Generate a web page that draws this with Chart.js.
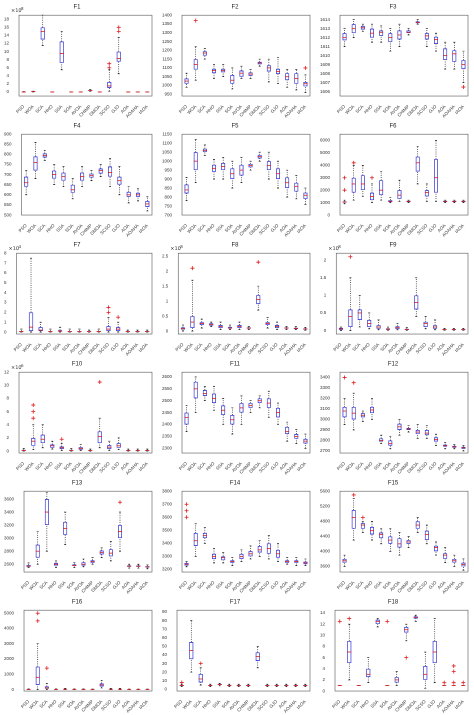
<!DOCTYPE html>
<html><head><meta charset="utf-8">
<script src="https://cdn.jsdelivr.net/npm/chart.js@4/dist/chart.umd.min.js"></script>
<style>
body{margin:0;background:#fff;font-family:"DejaVu Sans",sans-serif}
#g{display:grid;grid-template-columns:repeat(3,158px);grid-template-rows:repeat(6,119px);width:474px;height:715px}
.c{position:relative;width:158px;height:119px}
</style></head><body><div id="g"></div>
<script>
const categories=["PSO","WOA","SCA","HHO","SSA","SOA","AVOA","CHIMP","DMOA","SCSO","GJO","AOA","AOAHA","IAOA"];
const titles=["F1","F2","F3","F4","F5","F6","F7","F8","F9","F10","F11","F12","F13","F14","F15","F16","F17","F18"];
const exponents=["8","","","","","","4","8","8","6","","","","","","","",""];
const yRanges=[[-1,19],[940,1400],[1605.5,1614.5],[500,900],[700,1150],[0,6500],[-0.2,8],[-0.1,2.6],[-0.1,2.2],[-0.3,12],[2280,2620],[2680,3450],[2480,3720],[3180,3800],[3450,5600],[-100,5200],[-2,92],[0,14.5]];
const yTickSteps=[2,50,1,50,50,1000,1,0.5,0.5,2,50,100,200,100,200,500,10,2];
const F1_box=[[0,0,0,0,0.1],[0,0.05,0.1,0.15,0.2],[11.5,13,15,16,19],[0,0,0,0,0.05],[5.5,7.2,9.5,12.5,15],[0,0,0,0,0.05],[0,0,0,0,0.05],[0.2,0.3,0.4,0.5,0.6],[0,0,0,0,0.05],[0.2,1,1.5,2.5,5.5],[4.5,7.5,8.3,10,13.5],[0,0,0,0,0.05],[0,0,0,0,0.05],[0,0,0,0,0.05]];
const F1_out=[[9,6],[9,7],[10,15],[10,16]];
const F2_box=[[990,1010,1025,1040,1070],[1030,1090,1120,1150,1220],[1150,1170,1185,1195,1210],[1040,1070,1085,1095,1120],[1050,1075,1085,1095,1120],[980,1010,1030,1060,1100],[1040,1050,1070,1085,1110],[1040,1055,1065,1075,1090],[1110,1120,1128,1135,1150],[1020,1080,1100,1115,1150],[1010,1065,1080,1095,1160],[990,1030,1050,1070,1090],[975,1010,1040,1070,1090],[960,995,1010,1020,1060]];
const F2_out=[[1,1370],[13,1100]];
const F3_box=[[1611,1611.7,1612,1612.5,1613],[1612,1612.5,1613,1613.5,1614],[1612.7,1612.9,1613.1,1613.3,1613.5],[1611.5,1612,1612.5,1613,1613.5],[1611.5,1612.2,1612.6,1612.8,1613.3],[1610.5,1611.5,1612,1612.5,1613],[1611,1611.8,1612.3,1612.8,1613.5],[1612.3,1612.5,1612.6,1612.8,1613],[1613.5,1613.6,1613.7,1613.8,1614],[1611,1611.8,1612.2,1612.5,1613],[1610.5,1611.3,1611.8,1612.1,1612.5],[1608.5,1609.5,1610,1610.8,1611.5],[1608.5,1609.3,1610.2,1610.6,1611.5],[1607,1608.5,1609,1609.5,1610.5]];
const F3_out=[[13,1606.5]];
const F4_box=[[600,640,660,690,720],[680,720,760,790,860],[770,785,795,805,820],[650,680,700,720,750],[640,670,690,710,740],[580,610,625,650,680],[640,670,690,710,740],[670,685,695,705,720],[690,705,720,730,750],[640,690,710,740,780],[600,650,670,690,740],[560,590,600,615,640],[570,590,600,610,630],[520,540,555,570,590]];
const F4_out=[];
const F5_box=[[780,820,840,870,910],[880,950,1000,1050,1120],[1030,1050,1060,1070,1090],[900,940,960,980,1010],[900,950,970,990,1020],[850,900,930,960,1000],[880,920,950,980,1020],[950,965,975,985,1000],[1000,1015,1025,1035,1050],[900,950,975,1000,1050],[850,900,930,960,1000],[800,850,880,910,950],[790,830,860,880,920],[760,790,810,825,850]];
const F5_out=[];
const F6_box=[[900,1000,1050,1100,1200],[1200,1800,2500,3000,4000],[1500,2000,2500,3200,4000],[1000,1200,1500,1800,2500],[1200,1600,2000,2800,3500],[1000,1050,1100,1200,1400],[1100,1300,1600,2000,2800],[1000,1050,1100,1150,1200],[2500,3500,4200,4700,5500],[1100,1500,1800,2000,2500],[1100,1800,3000,4500,6000],[1000,1050,1100,1150,1200],[1000,1050,1100,1150,1200],[1000,1050,1100,1150,1200]];
const F6_out=[[0,2000],[0,3000],[1,4200],[3,3000]];
const F7_box=[[0,0.02,0.05,0.1,0.3],[0,0.1,0.5,2,7.5],[0,0.1,0.2,0.5,1],[0,0.02,0.05,0.1,0.3],[0,0.05,0.1,0.2,0.5],[0,0.02,0.05,0.1,0.3],[0,0.02,0.05,0.1,0.3],[0,0.02,0.05,0.1,0.2],[0,0.02,0.05,0.1,0.3],[0,0.1,0.3,0.6,1.5],[0,0.1,0.3,0.5,1],[0,0.02,0.05,0.1,0.2],[0,0.02,0.05,0.1,0.2],[0,0.02,0.05,0.1,0.2]];
const F7_out=[[9,2.5],[9,2],[10,1.5]];
const F8_box=[[0,0.05,0.08,0.12,0.2],[0,0.1,0.3,0.5,1.7],[0.1,0.2,0.25,0.3,0.4],[0.15,0.18,0.22,0.26,0.3],[0.05,0.1,0.15,0.2,0.3],[0.05,0.08,0.1,0.14,0.2],[0.05,0.1,0.15,0.2,0.3],[0.05,0.08,0.1,0.12,0.15],[0.7,0.9,1.05,1.2,1.5],[0.1,0.2,0.25,0.3,0.45],[0.05,0.1,0.15,0.2,0.3],[0.05,0.08,0.1,0.12,0.15],[0.05,0.07,0.09,0.11,0.15],[0.03,0.05,0.07,0.09,0.12]];
const F8_out=[[1,2.1],[8,2.3]];
const F9_box=[[0,0.02,0.05,0.08,0.1],[0,0.1,0.4,0.6,1.5],[0.1,0.3,0.5,0.6,1],[0.05,0.1,0.2,0.3,0.5],[0.02,0.05,0.1,0.15,0.3],[0.01,0.02,0.04,0.06,0.1],[0.02,0.04,0.08,0.12,0.2],[0.01,0.02,0.03,0.05,0.08],[0.4,0.6,0.8,1,1.5],[0.05,0.1,0.2,0.25,0.4],[0.02,0.05,0.1,0.15,0.3],[0.01,0.02,0.03,0.04,0.06],[0.01,0.02,0.03,0.04,0.06],[0.01,0.02,0.03,0.04,0.06]];
const F9_out=[[1,2.1]];
const F10_box=[[0,0.05,0.1,0.2,0.4],[0.2,0.8,1.5,2,4],[0.5,1.2,1.8,2.5,4],[0.3,0.5,0.8,1,1.5],[0.1,0.3,0.5,0.7,1.2],[0,0.05,0.1,0.2,0.4],[0.1,0.2,0.4,0.6,1],[0,0.05,0.1,0.15,0.3],[0.5,1.2,2.2,3,5],[0.1,0.3,0.6,0.9,1.5],[0.2,0.5,0.8,1.2,2],[0,0.05,0.1,0.15,0.3],[0,0.05,0.1,0.15,0.3],[0,0.05,0.1,0.15,0.3]];
const F10_out=[[1,5],[1,6],[1,7],[8,10.5],[4,1.8]];
const F11_box=[[2370,2400,2430,2450,2480],[2450,2510,2550,2580,2600],[2500,2520,2530,2545,2560],[2460,2490,2510,2530,2560],[2400,2440,2460,2480,2510],[2360,2400,2420,2440,2470],[2400,2450,2470,2490,2520],[2450,2470,2480,2490,2500],[2470,2490,2500,2510,2520],[2430,2470,2490,2510,2540],[2400,2430,2450,2470,2490],[2330,2360,2370,2390,2410],[2320,2340,2350,2360,2380],[2300,2320,2330,2340,2360]];
const F11_out=[];
const F12_box=[[2950,3020,3080,3120,3200],[2900,3000,3060,3120,3250],[2980,3020,3040,3060,3080],[3000,3060,3090,3120,3200],[2770,2790,2800,2820,2850],[2720,2750,2770,2800,2840],[2850,2900,2930,2960,3000],[2880,2900,2910,2920,2940],[2820,2860,2880,2900,2950],[2820,2850,2870,2900,2940],[2750,2790,2810,2830,2860],[2720,2740,2750,2760,2780],[2720,2730,2740,2750,2760],[2700,2720,2730,2740,2750]];
const F12_out=[[0,3400],[1,3350]];
const F13_box=[[2550,2560,2570,2590,2620],[2600,2700,2800,2900,3100],[2800,3200,3400,3600,3700],[2550,2580,2600,2620,2650],[2900,3050,3150,3250,3400],[2550,2570,2580,2600,2630],[2560,2580,2600,2630,2680],[2600,2620,2640,2660,2700],[2700,2750,2780,2810,2850],[2650,2720,2770,2830,2950],[2800,3000,3100,3200,3400],[2540,2560,2570,2580,2600],[2540,2560,2570,2580,2600],[2530,2550,2560,2570,2590]];
const F13_out=[[10,3550]];
const F14_box=[[3220,3230,3240,3250,3260],[3300,3380,3420,3480,3550],[3400,3440,3460,3480,3520],[3250,3280,3300,3320,3360],[3250,3270,3290,3300,3330],[3230,3250,3260,3270,3290],[3260,3280,3300,3320,3350],[3280,3300,3320,3340,3380],[3300,3330,3350,3380,3420],[3280,3320,3360,3400,3460],[3260,3290,3320,3350,3400],[3240,3250,3260,3270,3290],[3230,3250,3260,3270,3290],[3230,3240,3250,3260,3280]];
const F14_out=[[0,3700],[0,3650],[0,3600]];
const F15_box=[[3600,3700,3750,3800,3900],[4300,4600,4900,5100,5400],[4500,4600,4700,4750,4800],[4300,4450,4550,4650,4800],[4200,4350,4450,4500,4600],[4000,4200,4300,4400,4600],[3900,4100,4200,4350,4500],[4100,4200,4250,4300,4400],[4500,4600,4700,4800,4900],[4200,4300,4450,4550,4700],[3900,4000,4100,4150,4250],[3700,3800,3900,3950,4100],[3600,3700,3750,3800,3900],[3500,3600,3650,3700,3800]];
const F15_out=[[2,4900],[1,5500]];
const F16_box=[[0,5,10,20,40],[0,300,800,1500,3000],[0,50,100,200,400],[0,5,10,20,40],[0,10,20,40,80],[0,5,10,20,40],[0,5,10,20,40],[0,5,10,15,30],[100,200,300,400,600],[0,10,20,40,80],[0,10,20,40,80],[0,5,10,15,30],[0,5,10,15,30],[0,5,10,15,30]];
const F16_out=[[1,4500],[1,5000],[2,1400]];
const F17_box=[[3,4,4.5,5,6],[20,35,45,55,80],[5,8,12,18,25],[3,4,4.5,5,6],[4,5,5.5,6,7],[3,4,4.5,5,6],[3,4,4.5,5,6],[3,4,4.5,5,6],[25,33,38,43,50],[3,4,4.5,5,6],[3,4,4.5,5,6],[3,4,4.5,5,6],[3,4,4.5,5,6],[3,4,4.5,5,6]];
const F17_out=[[0,8],[2,30]];
const F18_box=[[1,1,1,1,1],[2,5,7,9,12],[1,1,1,1,1],[1.5,2.5,3,4,6],[11.5,12,12.5,12.8,13],[1,1,1,1,1],[1,1.5,2,2.5,3.5],[9,10.5,11,11.5,12],[12.5,13,13.2,13.4,13.6],[0.5,2,3,4.5,7],[1.5,5,7,9,13],[1,1,1,1,1],[1,1,1,1,1],[1,1,1,1,1]];
const F18_out=[[0,12.5],[1,13],[12,4.5],[12,3.5],[12,1.5],[11,1.5],[13,1.5],[7,6],[5,12.5]];
const boxes=[F1_box,F2_box,F3_box,F4_box,F5_box,F6_box,F7_box,F8_box,F9_box,F10_box,F11_box,F12_box,F13_box,F14_box,F15_box,F16_box,F17_box,F18_box];
const outs=[F1_out,F2_out,F3_out,F4_out,F5_out,F6_out,F7_out,F8_out,F9_out,F10_out,F11_out,F12_out,F13_out,F14_out,F15_out,F16_out,F17_out,F18_out];

const boxPlugin={id:'bp',afterDatasetsDraw(ch,a,o){
  const ctx=ch.ctx,x=ch.scales.x,y=ch.scales.y,b=o.box;
  ctx.save();
  b.forEach((d,i)=>{const cx=x.getPixelForValue(i),w=x.width/categories.length*0.22;
    ctx.strokeStyle='#000';ctx.lineWidth=0.6;ctx.setLineDash([1,1.2]);
    ctx.beginPath();ctx.moveTo(cx,y.getPixelForValue(d[0]));ctx.lineTo(cx,y.getPixelForValue(d[1]));
    ctx.moveTo(cx,y.getPixelForValue(d[3]));ctx.lineTo(cx,y.getPixelForValue(d[4]));ctx.stroke();
    ctx.setLineDash([]);ctx.beginPath();
    [d[0],d[4]].forEach(v=>{const p=y.getPixelForValue(v);ctx.moveTo(cx-w*0.5,p);ctx.lineTo(cx+w*0.5,p);});ctx.stroke();
    ctx.strokeStyle='#d62020';ctx.lineWidth=0.8;ctx.beginPath();const m=y.getPixelForValue(d[2]);ctx.moveTo(cx-w,m);ctx.lineTo(cx+w,m);ctx.stroke();
  });
  const c=ch.chartArea;ctx.strokeStyle='#555';ctx.lineWidth=0.6;ctx.strokeRect(c.left,c.top,c.right-c.left,c.bottom-c.top);
  if(o.exp){ctx.fillStyle='#333';ctx.font='5px DejaVu Sans';ctx.fillText('×10',c.left-8,c.top-3);ctx.font='4px DejaVu Sans';ctx.fillText(o.exp,c.left+2,c.top-5);}
  ctx.restore();
}};

const g=document.getElementById('g');
boxes.forEach((bx,k)=>{
  const d=document.createElement('div');d.className='c';const cv=document.createElement('canvas');d.appendChild(cv);g.appendChild(d);
  const st=yTickSteps[k];
  new Chart(cv,{data:{labels:categories,datasets:[
    {type:'bar',data:bx.map(r=>[r[1],r[3]]),backgroundColor:'rgba(0,0,0,0)',borderColor:'#3b3bd6',borderWidth:0.8,borderSkipped:false,barPercentage:0.45,categoryPercentage:1},
    {type:'line',showLine:false,data:outs[k].map(p=>({x:categories[p[0]],y:p[1]})),pointStyle:'cross',pointRadius:2,borderColor:'#e02020',borderWidth:0.8}
  ]},
  options:{animation:false,responsive:true,maintainAspectRatio:false,devicePixelRatio:2,
    layout:{padding:{left:2,right:6,top:0,bottom:0}},
    plugins:{legend:{display:false},tooltip:{enabled:false},title:{display:true,text:titles[k],font:{size:6,weight:'normal'},color:'#222',padding:{top:3,bottom:5}},bp:{box:bx,exp:exponents[k]}},
    scales:{x:{grid:{display:false},border:{display:false},ticks:{font:{size:4.5},color:'#333',maxRotation:45,minRotation:45,autoSkip:false,padding:0}},
      y:{min:yRanges[k][0],max:yRanges[k][1],grid:{display:false},border:{display:false},
        afterBuildTicks:ax=>{const t=[];for(let v=Math.ceil(ax.min/st-1e-9)*st;v<=ax.max+1e-9;v+=st)t.push({value:+v.toFixed(6)});ax.ticks=t;},
        ticks:{font:{size:4.5},color:'#333',padding:2,callback:v=>String(+(+v).toFixed(4))}}}}
  ,plugins:[boxPlugin]});
});
</script></body></html>
